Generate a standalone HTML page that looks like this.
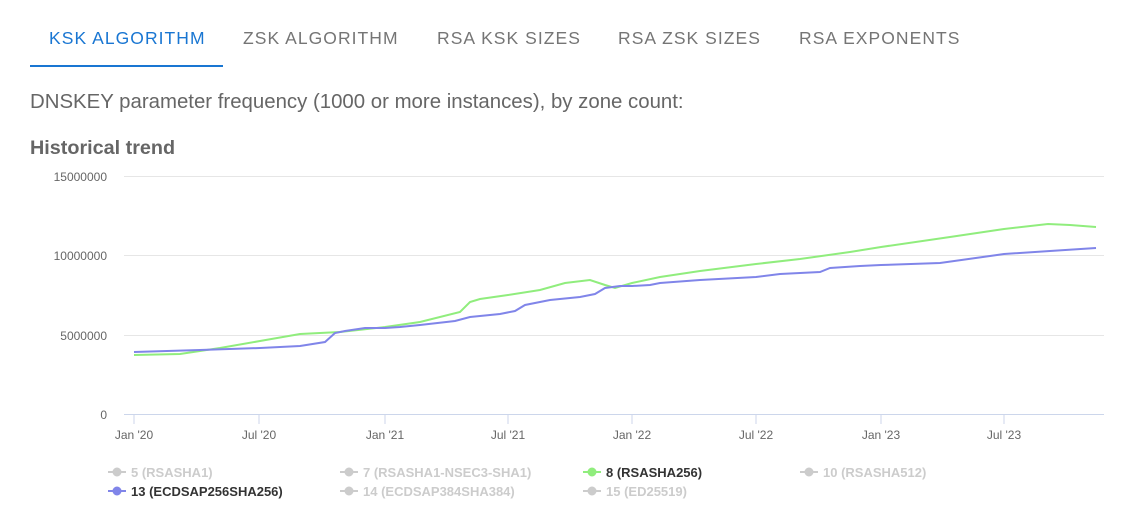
<!DOCTYPE html>
<html><head><meta charset="utf-8"><style>
body{margin:0;width:1135px;height:519px;background:#fff;font-family:"Liberation Sans",sans-serif;overflow:hidden;position:relative}
.tab{position:absolute;top:28px;font-size:17.5px;letter-spacing:1.05px;color:#757575}
</style></head><body>
<div class="tab" style="left:49px;color:#1976d2">KSK ALGORITHM</div>
<div class="tab" style="left:243px">ZSK ALGORITHM</div>
<div class="tab" style="left:437px">RSA KSK SIZES</div>
<div class="tab" style="left:618px">RSA ZSK SIZES</div>
<div class="tab" style="left:799px">RSA EXPONENTS</div>
<div style="position:absolute;left:30px;top:65px;width:193px;height:2px;background:#1976d2"></div>
<div style="position:absolute;left:30px;top:91px;font-size:20.4px;color:#666">DNSKEY parameter frequency (1000 or more instances), by zone count:</div>
<div style="position:absolute;left:30px;top:137px;font-size:19.8px;font-weight:bold;color:#666">Historical trend</div>
<svg width="1135" height="519" style="position:absolute;left:0;top:0" font-family="Liberation Sans,sans-serif">
<g stroke="#e6e6e6" stroke-width="1">
<line x1="124" x2="1104" y1="176.5" y2="176.5"/><line x1="124" x2="1104" y1="255.5" y2="255.5"/><line x1="124" x2="1104" y1="335.5" y2="335.5"/></g>
<line x1="124" x2="1104" y1="414.5" y2="414.5" stroke="#ccd6eb"/>
<g stroke="#ccd6eb"><line x1="134" x2="134" y1="414" y2="424"/><line x1="259" x2="259" y1="414" y2="424"/><line x1="385" x2="385" y1="414" y2="424"/><line x1="508" x2="508" y1="414" y2="424"/><line x1="632" x2="632" y1="414" y2="424"/><line x1="756" x2="756" y1="414" y2="424"/><line x1="881" x2="881" y1="414" y2="424"/><line x1="1004" x2="1004" y1="414" y2="424"/></g>
<g font-size="12" fill="#666" text-anchor="end"><text x="107" y="181">15000000</text><text x="107" y="260">10000000</text><text x="107" y="340">5000000</text><text x="107" y="419">0</text></g>
<g font-size="12" fill="#666" text-anchor="middle"><text x="134" y="439">Jan '20</text><text x="259" y="439">Jul '20</text><text x="385" y="439">Jan '21</text><text x="508" y="439">Jul '21</text><text x="632" y="439">Jan '22</text><text x="756" y="439">Jul '22</text><text x="881" y="439">Jan '23</text><text x="1004" y="439">Jul '23</text></g>
<polyline fill="none" stroke="#90ed7d" stroke-width="2" points="134,355 180,354 220,348 260,341 300,334 340,332 385,327 420,322 460,312 470,302 480,299 508,295 540,290 565,283 590,280 605,285 615,288 632,283 660,277 700,271 756,264 800,259 850,252 881,247 950,237 1004,229 1048,224 1070,225 1096,227"/>
<polyline fill="none" stroke="#8085e9" stroke-width="2" points="134,352 200,350 260,348 300,346 325,342 335,333 345,331 365,328 385,328 400,327 420,325 455,321 470,317 500,314 515,311 525,305 550,300 580,297 595,294 605,288 620,286 632,286 650,285 660,283 700,280 756,277 780,274 820,272 830,268 860,266 881,265 940,263 990,256 1004,254 1050,251 1096,248"/>
<g font-size="13" font-weight="bold">
<g fill="#ccc" stroke="#ccc"><line x1="108" x2="126" y1="472" y2="472" stroke-width="2"/><circle cx="117" cy="472" r="4"/></g><text x="131" y="477" fill="#ccc">5 (RSASHA1)</text>
<g fill="#ccc" stroke="#ccc"><line x1="340" x2="358" y1="472" y2="472" stroke-width="2"/><circle cx="349" cy="472" r="4"/></g><text x="363" y="477" fill="#ccc">7 (RSASHA1-NSEC3-SHA1)</text>
<g fill="#90ed7d" stroke="#90ed7d"><line x1="583" x2="601" y1="472" y2="472" stroke-width="2"/><circle cx="592" cy="472" r="4"/></g><text x="606" y="477" fill="#333">8 (RSASHA256)</text>
<g fill="#ccc" stroke="#ccc"><line x1="800" x2="818" y1="472" y2="472" stroke-width="2"/><circle cx="809" cy="472" r="4"/></g><text x="823" y="477" fill="#ccc">10 (RSASHA512)</text>
<g fill="#8085e9" stroke="#8085e9"><line x1="108" x2="126" y1="491" y2="491" stroke-width="2"/><circle cx="117" cy="491" r="4"/></g><text x="131" y="496" fill="#333">13 (ECDSAP256SHA256)</text>
<g fill="#ccc" stroke="#ccc"><line x1="340" x2="358" y1="491" y2="491" stroke-width="2"/><circle cx="349" cy="491" r="4"/></g><text x="363" y="496" fill="#ccc">14 (ECDSAP384SHA384)</text>
<g fill="#ccc" stroke="#ccc"><line x1="583" x2="601" y1="491" y2="491" stroke-width="2"/><circle cx="592" cy="491" r="4"/></g><text x="606" y="496" fill="#ccc">15 (ED25519)</text>
</g>
</svg>
</body></html>
